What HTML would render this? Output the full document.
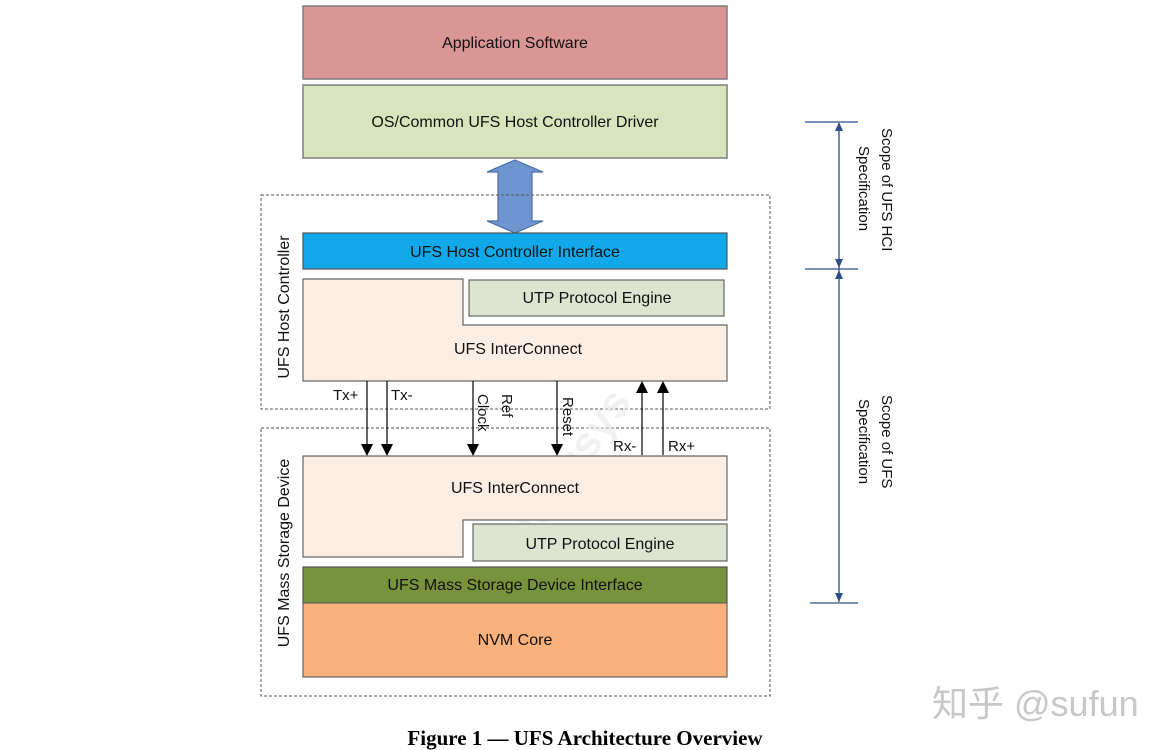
<!DOCTYPE html>
<html><head><style>
body{margin:0;background:#fff;}
svg{display:block;}
text{font-family:"Liberation Sans",Arial,sans-serif;}
</style></head><body>
<svg width="1169" height="750" viewBox="0 0 1169 750" xmlns="http://www.w3.org/2000/svg">
<!-- top boxes -->
<rect x="303" y="6" width="424" height="73" fill="#d99694" stroke="#7f7f7f" stroke-width="1.5"/>
<text x="515" y="48" font-size="16" text-anchor="middle" fill="#111">Application Software</text>
<rect x="303" y="85" width="424" height="73" fill="#d7e4bc" stroke="#7f7f7f" stroke-width="1.5"/>
<text x="515" y="127" font-size="16" text-anchor="middle" fill="#111">OS/Common UFS Host Controller Driver</text>
<!-- double arrow -->
<path d="M515,160 L543,172 L532,172 L532,221 L543,221 L515,233 L487,221 L498,221 L498,172 L487,172 Z" fill="#6f95d0" stroke="#4a6fa8" stroke-width="1.2"/>
<!-- dashed boxes -->
<rect x="261" y="195" width="509" height="214" fill="none" stroke="#555" stroke-width="1" stroke-dasharray="3,2"/>
<rect x="261" y="428" width="509" height="268" fill="none" stroke="#555" stroke-width="1" stroke-dasharray="3,2"/>
<!-- host controller -->
<rect x="303" y="233" width="424" height="36" fill="#12a9ea" stroke="#555" stroke-width="1.2"/>
<text x="515" y="257" font-size="16" text-anchor="middle" fill="#111">UFS Host Controller Interface</text>
<path d="M303,279 L463,279 L463,325 L727,325 L727,381 L303,381 Z" fill="#fdeee4" stroke="#666" stroke-width="1.2"/>
<rect x="469" y="280" width="255" height="36" fill="#dde4d0" stroke="#666" stroke-width="1.2"/>
<text x="597" y="303" font-size="16" text-anchor="middle" fill="#111">UTP Protocol Engine</text>
<text x="518" y="354" font-size="16" text-anchor="middle" fill="#111">UFS InterConnect</text>
<text transform="translate(289,307) rotate(-90)" font-size="16" text-anchor="middle" fill="#111">UFS Host Controller</text>
<!-- watermark -->
<text transform="translate(585,470) rotate(-55)" font-size="44" font-weight="bold" text-anchor="middle" fill="#e8e8e8" opacity="0.6">longsys</text>
<!-- signals -->
<g stroke="#000" stroke-width="1.2">
<line x1="367" y1="381" x2="367" y2="446"/>
<line x1="387" y1="381" x2="387" y2="446"/>
<line x1="473" y1="381" x2="473" y2="446"/>
<line x1="557" y1="381" x2="557" y2="446"/>
<line x1="642" y1="455" x2="642" y2="390"/>
<line x1="663" y1="455" x2="663" y2="390"/>
</g>
<g fill="#000">
<path d="M361,444 L373,444 L367,456 Z"/>
<path d="M381,444 L393,444 L387,456 Z"/>
<path d="M467,444 L479,444 L473,456 Z"/>
<path d="M551,444 L563,444 L557,456 Z"/>
<path d="M636,393 L648,393 L642,381 Z"/>
<path d="M657,393 L669,393 L663,381 Z"/>
</g>
<text x="333" y="400" font-size="15" fill="#111">Tx+</text>
<text x="391" y="400" font-size="15" fill="#111">Tx-</text>
<text transform="translate(502,394) rotate(90)" font-size="15" fill="#111">Ref</text>
<text transform="translate(478,394) rotate(90)" font-size="15" fill="#111">Clock</text>
<text transform="translate(563,397) rotate(90)" font-size="15" fill="#111">Reset</text>
<text x="613" y="451" font-size="15" fill="#111">Rx-</text>
<text x="668" y="451" font-size="15" fill="#111">Rx+</text>
<!-- device -->
<path d="M303,456 L727,456 L727,520 L463,520 L463,557 L303,557 Z" fill="#fdeee4" stroke="#666" stroke-width="1.2"/>
<text x="515" y="493" font-size="16" text-anchor="middle" fill="#111">UFS InterConnect</text>
<rect x="473" y="524" width="254" height="37" fill="#dde4d0" stroke="#666" stroke-width="1.2"/>
<text x="600" y="549" font-size="16" text-anchor="middle" fill="#111">UTP Protocol Engine</text>
<rect x="303" y="567" width="424" height="36" fill="#77933c" stroke="#555" stroke-width="1.2"/>
<text x="515" y="590" font-size="16" text-anchor="middle" fill="#111">UFS Mass Storage Device Interface</text>
<rect x="303" y="603" width="424" height="74" fill="#f9b27c" stroke="#666" stroke-width="1.2"/>
<text x="515" y="645" font-size="16" text-anchor="middle" fill="#111">NVM Core</text>
<text transform="translate(289,553) rotate(-90)" font-size="16" text-anchor="middle" fill="#111">UFS Mass Storage Device</text>
<!-- scope -->
<g stroke="#2f4f8a" stroke-width="1.3">
<line x1="805" y1="122" x2="858" y2="122"/>
<line x1="805" y1="269" x2="858" y2="269"/>
<line x1="810" y1="603" x2="858" y2="603"/>
<line x1="839" y1="123" x2="839" y2="602"/>
</g>
<g fill="#2f4f8a">
<path d="M839,122 L835,131 L843,131 Z"/>
<path d="M839,268 L835,259 L843,259 Z"/>
<path d="M839,270 L835,279 L843,279 Z"/>
<path d="M839,602 L835,593 L843,593 Z"/>
</g>
<text transform="translate(882,128) rotate(90)" font-size="15" fill="#111">Scope of UFS HCI</text>
<text transform="translate(859,146) rotate(90)" font-size="15" fill="#111">Specification</text>
<text transform="translate(882,395) rotate(90)" font-size="15" fill="#111">Scope of UFS</text>
<text transform="translate(859,399) rotate(90)" font-size="15" fill="#111">Specification</text>
<!-- caption -->
<text x="585" y="745" font-size="21" font-weight="bold" text-anchor="middle" fill="#000" style="font-family:'Liberation Serif',serif">Figure 1 — UFS Architecture Overview</text>
<text x="932" y="716" font-size="36" fill="#c8c8c8" style="font-family:'Liberation Sans','Noto Sans CJK SC',sans-serif">知乎 @sufun</text>
</svg>
</body></html>
